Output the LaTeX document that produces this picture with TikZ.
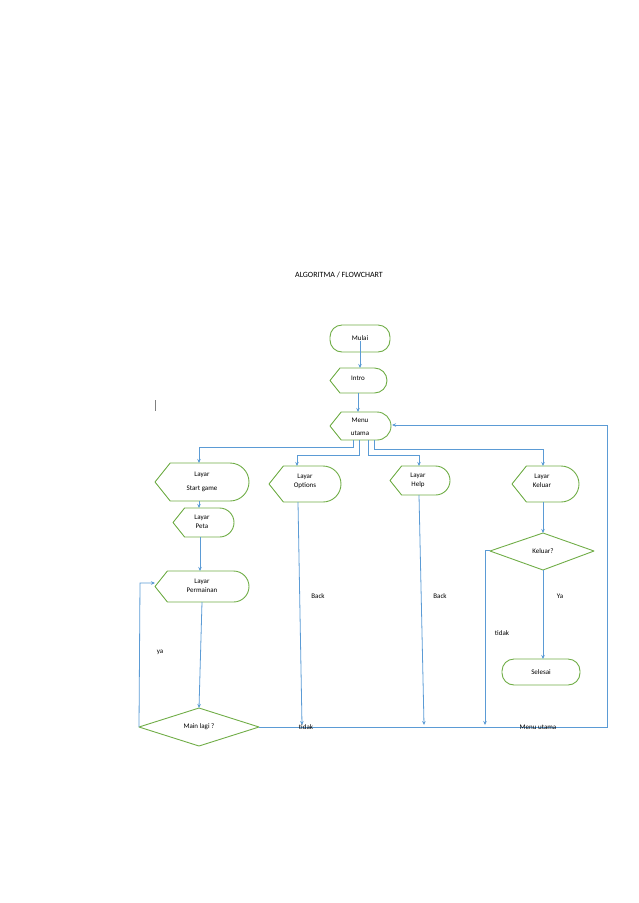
\documentclass[tikz,border=0pt]{standalone}
\usepackage{fontspec}
\setmainfont{Carlito}
\usetikzlibrary{arrows.meta,shapes.geometric}
\definecolor{grn}{RGB}{112,173,71}
\definecolor{blu}{RGB}{91,155,213}
\newcommand{\dispshape}[4]{% x1 y1 x2 y2
  \pgfmathsetmacro{\cyy}{(#2+#4)/2}\pgfmathsetmacro{\rr}{(#4-#2)/2}
  \draw[shp] (#1,\cyy) -- (#1+\rr*0.8,#2) -- (#3-\rr,#2) arc[start angle=90,end angle=-90,radius=\rr pt] -- (#1+\rr*0.8,#4) -- cycle;}
\begin{document}
\begin{tikzpicture}[x=1pt,y=-1pt,
  shp/.style={draw=grn,line width=0.9pt,line join=round},
  txt/.style={font=\fontsize{7}{9}\selectfont,align=center,inner sep=0pt},
  arr/.style={draw=blu,line width=0.8pt,-{Stealth[length=4pt,width=3.5pt]}},
  ln/.style={draw=blu,line width=0.8pt},
  term/.style={shp,rounded rectangle},
  dia/.style={shp,diamond,aspect=3.2,inner sep=0pt}]
\path[use as bounding box] (0,0) rectangle (638,903);
\node[txt,font=\fontsize{8}{10}\selectfont] (title) at (339,275) {ALGORITMA / FLOWCHART};
\draw[gray,line width=0.4pt] (155,400) -- (155,411);
% terminals
\draw[shp,rounded corners=12pt] (330,325) rectangle (390,352);
\node[txt] (mulai) at (360,338) {Mulai};
\draw[shp,rounded corners=12pt] (502,659) rectangle (580,685);
\node[txt] (selesai) at (541,672) {Selesai};
% displays
\dispshape{330}{368}{387}{393}
\node[txt] (intro) at (358,378) {Intro};
\dispshape{330}{412}{391}{440}
\node[txt] (menu) at (360,420) {Menu};
\node[txt] (menu2) at (360,433) {utama};
\dispshape{155}{463}{249}{501}
\node[txt] (start) at (202,482) {Layar\\[5pt]Start game};
\dispshape{269}{466}{341}{502}
\node[txt] (opt) at (305,481) {Layar\\Options};
\dispshape{390}{466}{450}{495}
\node[txt] (help) at (418,480) {Layar\\Help};
\dispshape{512}{466}{579}{502}
\node[txt] (kel) at (542,481) {Layar\\Keluar};
\dispshape{173}{508}{234}{537}
\node[txt] (peta) at (202,522) {Layar\\Peta};
\dispshape{155}{571}{249}{602}
\node[txt] (perm) at (202,586) {Layar\\Permainan};
% diamonds
\draw[shp] (139,727) -- (199,708) -- (259,727) -- (199,746) -- cycle;
\node[txt] (main) at (199,727) {Main lagi ?};
\draw[shp] (490,551) -- (543,533) -- (594,551) -- (543,570) -- cycle;
\node[txt] (kq) at (543,551) {Keluar?};
% coordinates
\coordinate (m1) at (353,440);\coordinate (m2) at (359,440);
\coordinate (m3) at (368,440);\coordinate (m4) at (374,440);
\coordinate (sT) at (199,463);\coordinate (oT) at (297,466);
\coordinate (hT) at (419,466);\coordinate (kT) at (543,466);
\coordinate (sB) at (199,501);\coordinate (pT) at (199,508);
\coordinate (pB) at (200,537);\coordinate (prT) at (200,571);
\coordinate (prB) at (202,602);\coordinate (mT) at (199,708);
\coordinate (mL) at (139,727);\coordinate (prL) at (155,583);
\coordinate (mR) at (259,727);\coordinate (oB) at (298,502);
\coordinate (oE) at (302,725);\coordinate (hB) at (419,495);
\coordinate (hE) at (424,725);\coordinate (kB) at (543,502);
\coordinate (kqT) at (543,533);\coordinate (kqB) at (543,570);
\coordinate (selT) at (543,659);\coordinate (kqL) at (490,550);
\coordinate (tE) at (485,725);\coordinate (menuR) at (392,425);
% connectors
\draw[arr] (mulai) -- (360,368);
\draw[arr] (358,393) -- (358,412);
\draw[arr] (m1) |- (199,447) -- (sT);
\draw[arr] (m2) |- (297,455) -- (oT);
\draw[arr] (m3) |- (419,455) -- (hT);
\draw[arr] (m4) |- (543,449) -- (kT);
\draw[arr] (sB) -- (pT);
\draw[arr] (pB) -- (prT);
\draw[arr] (prB) -- (mT);
\draw[arr] (mL) -- (140,583) -- (prL);
\draw[arr] (oB) -- (oE);
\draw[arr] (hB) -- (hE);
\draw[arr] (kB) -- (kqT);
\draw[arr] (kqB) -- (selT);
\draw[arr] (kqL) -- (485,550) -- (tE);
\draw[arr] (mR) -- (607,727) -- (607,425) -- (menuR);
% labels
\node[txt] (l1) at (318,596) {Back};
\node[txt] (l2) at (440,596) {Back};
\node[txt] (l3) at (560,596) {Ya};
\node[txt] (l4) at (502,633) {tidak};
\node[txt] (l5) at (160,652) {ya};
\node[txt] (l6) at (306,727) {tidak};
\node[txt] (l7) at (538,727) {Menu utama};
\end{tikzpicture}
\end{document}
